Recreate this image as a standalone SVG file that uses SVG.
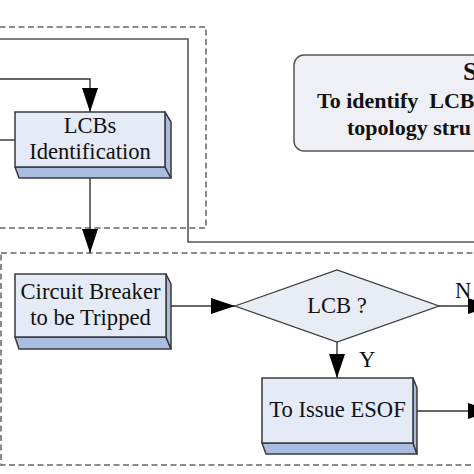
<svg xmlns="http://www.w3.org/2000/svg" width="474" height="474" viewBox="0 0 474 474">
<style>
.t{font-family:"Liberation Serif","Times New Roman",serif;font-size:22.6px;fill:#111;}
.b{font-weight:bold;font-size:22px;}
.front{fill:#e4eaf6;stroke:#3a3a3a;stroke-width:1.5;}
.ext{fill:#a9bde0;stroke:#3a3a3a;stroke-width:1.5;stroke-linejoin:round;}
.dash{fill:none;stroke:#666;stroke-width:1.5;stroke-dasharray:6,3.5;}
.line{fill:none;stroke:#555;stroke-width:1.6;}
.conn{fill:none;stroke:#333;stroke-width:1.4;}
</style>
<defs>
<marker id="ah" markerUnits="userSpaceOnUse" viewBox="0 0 24 16" refX="24" refY="8" markerWidth="24" markerHeight="16" orient="auto">
<path d="M0,0 L24,8 L0,16 z" fill="#000"/>
</marker>
</defs>
<rect width="474" height="474" fill="#fff"/>
<g id="groups">
<rect class="dash" x="-10" y="27" width="216" height="201"/>
<rect class="dash" x="1" y="253" width="490" height="212"/>
</g>
<g id="connectors">
<polyline class="line" points="0,39 188,39 188,242 480,242"/>
<polyline class="conn" points="0,79 90,79 90,112" marker-end="url(#ah)"/>
<line class="conn" x1="0" y1="140" x2="15" y2="140"/>
<line class="conn" x1="90" y1="178" x2="90" y2="253" marker-end="url(#ah)"/>
<line class="conn" x1="171" y1="306" x2="235" y2="306" marker-end="url(#ah)"/>
<line class="conn" x1="439" y1="306" x2="492" y2="306" marker-end="url(#ah)"/>
<line class="conn" x1="337" y1="342" x2="337" y2="378" marker-end="url(#ah)"/>
<line class="conn" x1="417" y1="411" x2="492" y2="411" marker-end="url(#ah)"/>
<text class="t" x="455" y="298">N</text>
<text class="t" x="359" y="367">Y</text>
</g>
<g id="lcbs-identification">
<polygon class="ext" points="15,167 165,167 171,178 19,178"/>
<polygon class="ext" points="165,112 171,122 171,178 165,167"/>
<rect class="front" x="15" y="112" width="150" height="55"/>
<text class="t" x="90" y="133" text-anchor="middle">LCBs</text>
<text class="t" x="90" y="159" text-anchor="middle">Identification</text>
</g>
<g id="circuit-breaker">
<polygon class="ext" points="15,337 166,337 171,349 19,349"/>
<polygon class="ext" points="166,274 171,284 171,349 166,337"/>
<rect class="front" x="15" y="274" width="151" height="63"/>
<text class="t" x="90.5" y="299" text-anchor="middle">Circuit Breaker</text>
<text class="t" x="90.5" y="325" text-anchor="middle">to be Tripped</text>
</g>
<g id="lcb-decision">
<polygon points="235,306 337,270 439,306 337,342" fill="#e8ecf4" stroke="#3a3a3a" stroke-width="1.3"/>
<text class="t" x="337" y="313" text-anchor="middle">LCB ?</text>
</g>
<g id="issue-esof">
<polygon class="ext" points="262,443 413,443 417,454 266,454"/>
<polygon class="ext" points="413,378 417,388 417,454 413,443"/>
<rect class="front" x="262" y="378" width="151" height="65"/>
<text class="t" x="337.5" y="417" text-anchor="middle">To Issue ESOF</text>
</g>
<g id="step-box">
<rect x="294" y="55" width="230" height="96" rx="10" fill="#eef0f5" stroke="#555" stroke-width="1.5"/>
<text class="t b" x="463" y="80" style="font-size:26px">S</text>
<text class="t b" x="317" y="108" xml:space="preserve">To identify  LCB</text>
<text class="t b" x="347" y="135">topology stru</text>
</g>
</svg>
